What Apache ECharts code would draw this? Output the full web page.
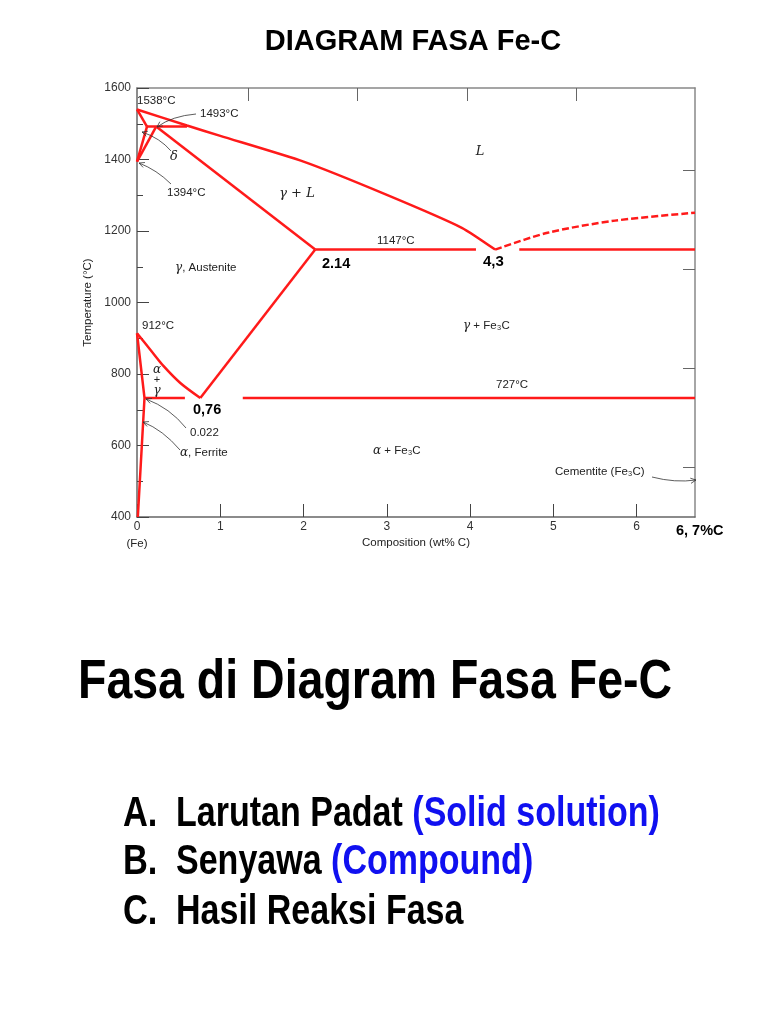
<!DOCTYPE html>
<html>
<head>
<meta charset="utf-8">
<script src="https://cdn.jsdelivr.net/npm/echarts@6/dist/echarts.min.js"></script>
<style>
  html, body { margin: 0; padding: 0; background: #fff; }
  #main { width: 768px; height: 1024px; }
</style>
</head>
<body>
<div id="main"></div>
<script>
// phase boundary lines, [wt% C, temperature degC]
var liquidusLeft  = [[0, 1540], [0.6, 1495], [1, 1466], [2, 1394], [3, 1301], [3.9, 1209], [4.3, 1148]];
var liquidusRight = [[4.3, 1148], [4.93, 1195], [5.74, 1229], [6.7, 1251]];
var deltaSolidus  = [[0, 1540], [0.12, 1492]];
var deltaGammaA   = [[0.12, 1492], [0, 1394]];
var deltaGammaB   = [[0, 1394], [0.23, 1492]];
var peritectic    = [[0.12, 1492], [0.6, 1492]];
var gammaSolidus  = [[0.23, 1492], [2.14, 1148]];
var acmLine       = [[2.14, 1148], [0.76, 733]];
var a3Line        = [[0, 914], [0.16, 868], [0.32, 822], [0.52, 775], [0.76, 733]];
var alphaSolvus   = [[0, 914], [0.09, 733], [0.01, 400]];
var eutectoidA    = [[0.09, 733], [0.575, 733]];
var eutectoidB    = [[1.27, 733], [6.7, 733]];
var eutecticA     = [[2.14, 1148], [4.07, 1148]];
var eutecticB     = [[4.59, 1148], [6.7, 1148]];

// axis ticks
var xTicks = [0, 1, 2, 3, 4, 5, 6];
var yTicks = [400, 600, 800, 1000, 1200, 1400, 1600];
var topTicks = [1.33, 2.65, 3.96, 5.28];            // unlabeled ticks on top edge
var rightTicks = [537.8, 815.6, 1093.3, 1371.1];      // unlabeled ticks on right edge (degF)

var RED = '#ff1a1a';
var FONT = 'Liberation Sans, Arial, sans-serif';
var SERIF = 'DejaVu Serif, serif';

function seg(data, extra) {
    var s = {
        type: 'line', data: data, symbol: 'none', silent: true,
        lineStyle: { color: RED, width: 2.5 }
    };
    return Object.assign(s, extra || {});
}

function txt(x, y, text, o) {
    o = o || {};
    return {
        type: 'text', x: x, y: y, scaleX: o.scaleX || 1, z: 10,
        style: {
            text: text, fontSize: o.size || 11.5, fontFamily: o.family || FONT,
            fontWeight: o.weight || 'normal', fontStyle: o.style || 'normal',
            fill: o.color || '#222', align: o.align || 'left', verticalAlign: 'middle',
            rich: o.rich
        }
    };
}

function arrow(x1, y1, cx, cy, x2, y2) {
    var a = Math.atan2(y2 - cy, x2 - cx), L = 6, w = 0.45;
    var st = { stroke: '#333', lineWidth: 0.8, fill: null };
    return [
        { type: 'bezierCurve', z: 10, shape: { x1: x1, y1: y1, x2: x2, y2: y2, cpx1: cx, cpy1: cy }, style: st },
        { type: 'polyline', z: 10, shape: { points: [
            [x2 - L * Math.cos(a - w), y2 - L * Math.sin(a - w)], [x2, y2],
            [x2 - L * Math.cos(a + w), y2 - L * Math.sin(a + w)]] }, style: st }
    ];
}

var greek = { g: { fontFamily: SERIF, fontStyle: 'italic', fontSize: 12, fill: '#222' },
              t: { fontFamily: FONT, fontSize: 11.5, fill: '#222' } };
var listRich = { k: { fill: '#000', fontSize: 42, fontWeight: 'bold', fontFamily: FONT },
                 b: { fill: '#1010f0', fontSize: 42, fontWeight: 'bold', fontFamily: FONT } };

var graphics = [
    // headings
    txt(413, 42, 'DIAGRAM FASA Fe-C', { size: 29, weight: 'bold', color: '#000', align: 'center' }),
    txt(78, 683, 'Fasa di Diagram Fasa Fe-C', { size: 56, weight: 'bold', color: '#000', scaleX: 0.83 }),
    txt(123, 814, 'A.', { size: 42, weight: 'bold', color: '#000', scaleX: 0.82 }),
    txt(176, 814, '{k|Larutan Padat }{b|(Solid solution)}', { size: 42, weight: 'bold', scaleX: 0.81, rich: listRich }),
    txt(123, 862, 'B.', { size: 42, weight: 'bold', color: '#000', scaleX: 0.82 }),
    txt(176, 862, '{k|Senyawa }{b|(Compound)}', { size: 42, weight: 'bold', scaleX: 0.81, rich: listRich }),
    txt(123, 912, 'C.', { size: 42, weight: 'bold', color: '#000', scaleX: 0.82 }),
    txt(176, 912, 'Hasil Reaksi Fasa', { size: 42, weight: 'bold', color: '#000', scaleX: 0.81 }),

    // diagram annotations
    txt(137, 101, '1538°C'),
    txt(200, 114, '1493°C'),
    txt(174, 157, 'δ', { family: SERIF, style: 'italic', size: 13, align: 'center' }),
    txt(167, 193, '1394°C'),
    txt(297, 194, 'γ + L', { family: SERIF, style: 'italic', size: 13, align: 'center' }),
    txt(480, 152, 'L', { family: SERIF, style: 'italic', size: 13, align: 'center' }),
    txt(377, 241, '1147°C'),
    txt(322, 264, '2.14', { size: 14.5, weight: 'bold', color: '#000' }),
    txt(483, 262, '4,3', { size: 15, weight: 'bold', color: '#000' }),
    txt(175, 268, '{g|γ}{t|, Austenite}', { rich: greek }),
    txt(142, 326, '912°C'),
    txt(157, 370, 'α', { family: SERIF, style: 'italic', size: 12, align: 'center' }),
    txt(157, 380, '+', { size: 11, align: 'center' }),
    txt(157, 391, 'γ', { family: SERIF, style: 'italic', size: 12, align: 'center' }),
    txt(193, 410, '0,76', { size: 14.5, weight: 'bold', color: '#000' }),
    txt(190, 433, '0.022'),
    txt(180, 453, '{g|α}{t|, Ferrite}', { rich: greek }),
    txt(463, 326, '{g|γ}{t| + Fe₃C}', { rich: greek }),
    txt(496, 385, '727°C'),
    txt(373, 451, '{g|α}{t| + Fe₃C}', { rich: greek }),
    txt(555, 472, 'Cementite (Fe₃C)'),
    txt(676, 531, '6, 7%C', { size: 14.5, weight: 'bold', color: '#000' }),
    txt(137, 544, '(Fe)', { align: 'center' })
].concat(
    arrow(196, 114, 172, 116, 157, 127),
    arrow(171, 151, 160, 138, 142, 132),
    arrow(171, 184, 157, 170, 139, 163),
    arrow(186, 428, 170, 408, 146, 399),
    arrow(180, 450, 163, 430, 143, 422),
    arrow(652, 477, 675, 483, 696, 480)
);

function plain(v) { return String(v); }

var chart = echarts.init(document.getElementById('main'));
var option = {
    animation: false,
    backgroundColor: '#fff',
    grid: { left: 137, right: 73, top: 88, bottom: 507 },
    xAxis: [{
        type: 'value', min: 0, max: 6.7, interval: 1,
        name: 'Composition (wt% C)', nameLocation: 'middle', nameGap: 20,
        nameTextStyle: { fontSize: 11.5, color: '#222', fontFamily: FONT },
        axisLine: { onZero: false, lineStyle: { color: '#666', width: 1.5 } },
        axisTick: { inside: true, length: 13, lineStyle: { color: '#444' }, customValues: xTicks },
        axisLabel: { fontSize: 12, color: '#333', fontFamily: FONT, margin: 4, customValues: xTicks, formatter: plain },
        splitLine: { show: false }
    }, {
        type: 'value', min: 0, max: 6.7, position: 'top',
        axisLine: { show: true, onZero: false, lineStyle: { color: '#888', width: 1.5 } },
        axisTick: { inside: true, length: 13, lineStyle: { color: '#666' }, customValues: topTicks },
        axisLabel: { show: false },
        splitLine: { show: false }
    }],
    yAxis: [{
        type: 'value', min: 400, max: 1600, interval: 200,
        name: 'Temperature (°C)', nameLocation: 'middle', nameGap: 42,
        nameTextStyle: { fontSize: 11.5, color: '#222', fontFamily: FONT },
        axisLine: { show: true, onZero: false, lineStyle: { color: '#666', width: 1.5 } },
        axisTick: { inside: true, length: 12, lineStyle: { color: '#444' } },
        minorTick: { show: true, splitNumber: 2, length: 6, lineStyle: { color: '#444' } },
        axisLabel: { fontSize: 12, color: '#333', fontFamily: FONT, margin: 6, customValues: yTicks, formatter: plain },
        splitLine: { show: false }
    }, {
        type: 'value', min: 400, max: 1600, position: 'right',
        axisLine: { show: true, onZero: false, lineStyle: { color: '#888', width: 1.5 } },
        axisTick: { inside: true, length: 12, lineStyle: { color: '#666' }, customValues: rightTicks },
        axisLabel: { show: false },
        splitLine: { show: false }
    }],
    series: [
        seg(liquidusLeft, { smooth: 0.2 }),
        seg(liquidusRight, { smooth: 0.3, lineStyle: { color: RED, width: 2.5, type: [7, 3] } }),
        seg(deltaSolidus),
        seg(deltaGammaA),
        seg(deltaGammaB),
        seg(peritectic),
        seg(gammaSolidus),
        seg(acmLine),
        seg(a3Line, { smooth: 0.3 }),
        seg(alphaSolvus),
        seg(eutectoidA),
        seg(eutectoidB),
        seg(eutecticA),
        seg(eutecticB)
    ],
    graphic: graphics
};
chart.setOption(option);
</script>
</body>
</html>
